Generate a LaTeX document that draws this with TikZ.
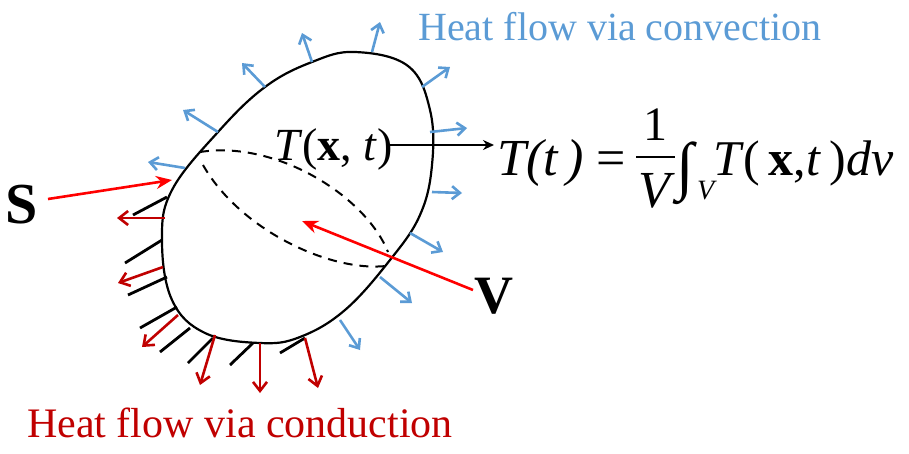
\documentclass[tikz,border=0pt]{standalone}
\usepackage{fontspec}
\setmainfont{Liberation Serif}
\usetikzlibrary{arrows.meta}
\definecolor{cblue}{RGB}{91,155,213}
\definecolor{cred}{RGB}{192,0,0}
\begin{document}
\begin{tikzpicture}[x=1pt,y=-1pt,
  conv/.style={draw=cblue,line width=2.6pt,-{Straight Barb[length=8pt,width=13pt,line width=2.6pt]}},
  cond/.style={draw=cred,line width=2.6pt,-{Straight Barb[length=9pt,width=14pt,line width=2.6pt]}},
  hatch/.style={line width=2.8pt},
  lab/.style={inner sep=0pt,anchor=base west}]
\useasboundingbox (0,0) rectangle (909,453);
% blob
\draw[line width=2.2pt] plot[smooth cycle,tension=0.65] coordinates{(218,132)(265,87)(312,62)(355,52)(408,66)(430,110)(432,165)(420,215)(390,260)(345,310)(300,337)(260,343)(205,333)(172,300)(162,240)(172,190)};
% dashed ellipse
\draw[line width=2pt,dash pattern=on 9pt off 7pt] (200,152) .. controls (275,140) and (365,195) .. (388,252);
\draw[line width=2pt,dash pattern=on 9pt off 7pt] (203,165) .. controls (240,230) and (330,272) .. (386,266);
% hatch
\draw[hatch] (167,197)--(133,215) (162,240)--(125,263) (167,277)--(128,295) (177,307)--(140,328) (190,328)--(160,352) (213,338)--(188,363) (253,343)--(230,365) (305,338)--(280,353);
% conduction arrows
\foreach \sx/\sy/\ex/\ey [count=\i] in {165/218/117/218, 163/267/118/283, 178/315/142/347, 215/335/200/385, 260/343/260/393, 305/338/318/388}{
  \coordinate (c\i s) at (\sx,\sy); \coordinate (c\i e) at (\ex,\ey);
  \draw[cond] (c\i s)--(c\i e);}
% convection arrows
\foreach \sx/\sy/\ex/\ey [count=\i] in {312/62/302/33, 372/52/380/22, 422/87/450/67, 430/132/467/128, 432/192/462/193, 410/233/443/252, 380/277/412/303, 340/320/360/350, 265/87/242/63, 218/132/183/110, 185/168/148/162}{
  \coordinate (v\i s) at (\sx,\sy); \coordinate (v\i e) at (\ex,\ey);
  \draw[conv] (v\i s)--(v\i e);}
% S and V
\node[font=\bfseries\fontsize{58}{58}\selectfont,inner sep=0pt] (S) at (22,205) {S};
\coordinate (Ss) at (48,199); \coordinate (Se) at (172,180);
\draw[red,line width=2.6pt,-{Stealth[length=16pt,width=13pt]}] (Ss)--(Se);
\node[font=\bfseries\fontsize{54}{54}\selectfont,inner sep=0pt] (V) at (494,296) {V};
\coordinate (Vs) at (473,290); \coordinate (Ve) at (302,221);
\draw[red,line width=2.6pt,-{Stealth[length=16pt,width=13pt]}] (Vs)--(Ve);
% T(x,t)
\node[lab,font=\fontsize{46}{46}\selectfont] (T) at (274,160) {\textit{T}(\textbf{x}, \textit{t})};
\coordinate (Ts) at (390,145); \coordinate (Te) at (494,145);
\draw[line width=2pt,-{Stealth[length=11pt,width=10pt]}] (Ts) -- (Te);
% formula
\node[lab,font=\itshape\fontsize{52}{52}\selectfont] (f1) at (497,175) {T(t\,)};
\node[lab,font=\fontsize{52}{52}\selectfont] (eq) at (596,175) {=};
\node[lab,font=\fontsize{48}{48}\selectfont] (one) at (643,140) {1};
\draw[line width=2pt] (636,157)--(675,157);
\node[lab,font=\itshape\fontsize{52}{52}\selectfont] (Vd) at (638,207) {V};
\node[lab,font=\fontsize{64}{64}\selectfont] (int) at (676,187) {∫};
\node[lab,font=\itshape\fontsize{28}{28}\selectfont] (Vs2) at (697,199) {V};
\node[lab,font=\fontsize{50}{50}\selectfont] (f2) at (713,175) {\textit{T}(\,\textbf{x},\textit{t}\,)\textit{dv}};
% captions
\node[lab,font=\fontsize{40}{40}\selectfont,text=cblue] (hc) at (418,40) {Heat flow via convection};
\node[lab,font=\fontsize{42}{42}\selectfont,text=cred] (hd) at (27,437) {Heat flow via conduction};
\end{tikzpicture}
\end{document}
